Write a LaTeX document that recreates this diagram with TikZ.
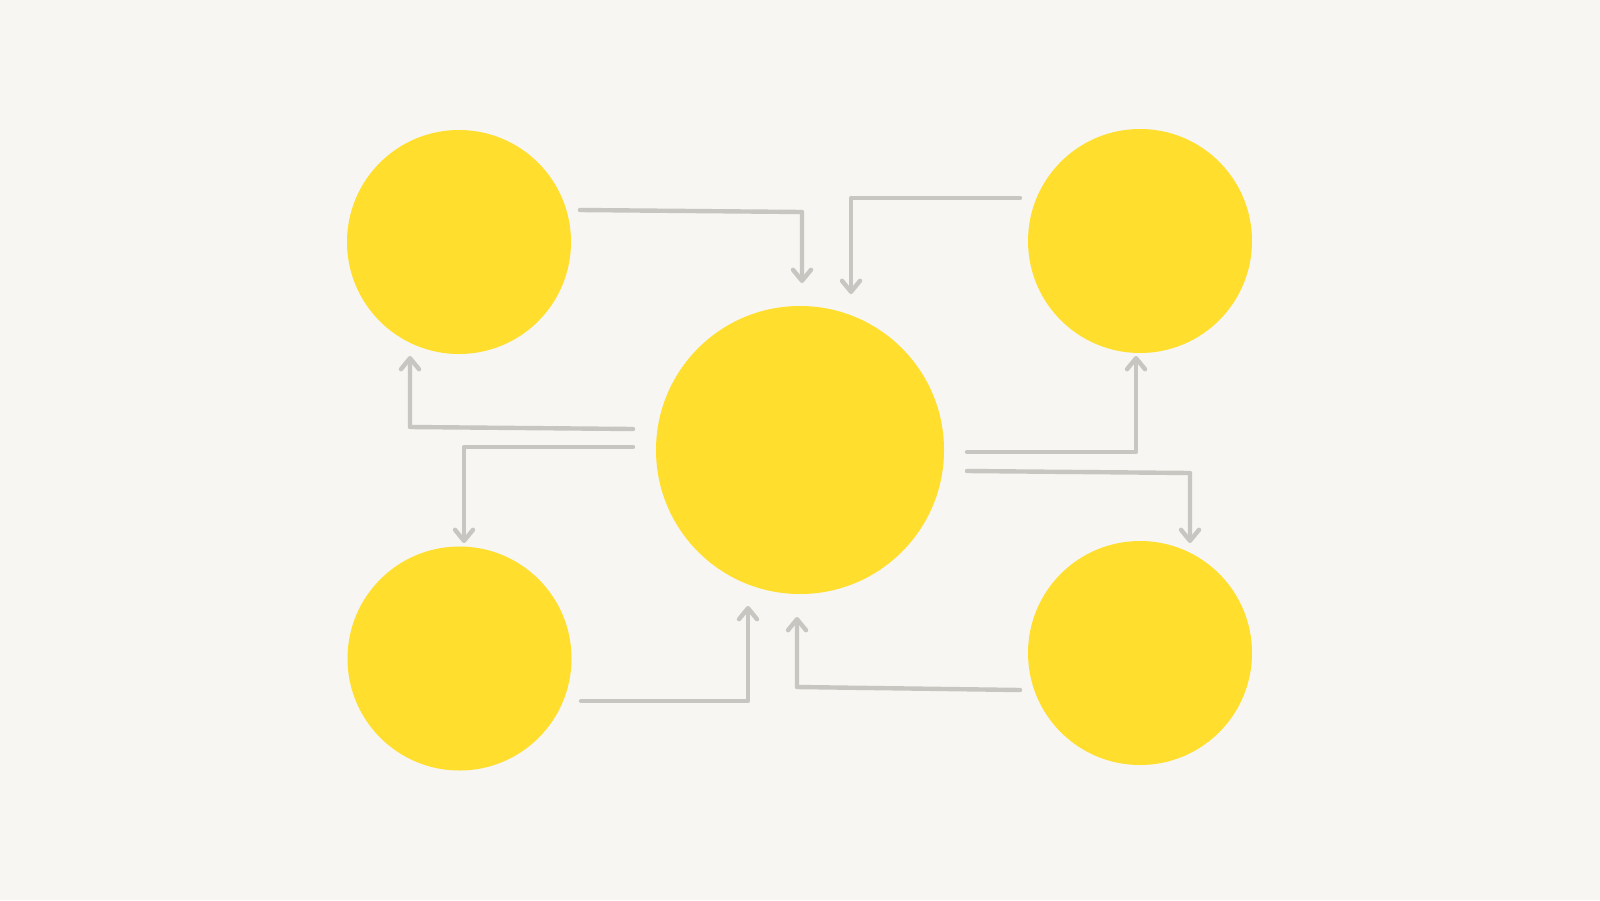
\documentclass[tikz,border=0pt]{standalone}
\usetikzlibrary{arrows.meta}
\definecolor{bg}{HTML}{F7F6F2}
\definecolor{sun}{HTML}{FFDE2E}
\definecolor{link}{HTML}{C8C6C1}
\begin{document}
\begin{tikzpicture}[x=1pt,y=-1pt,
  blob/.style={circle,fill=sun,draw=none,inner sep=0pt},
  conn/.style={draw=link,line width=4.4pt,line cap=round,line join=round,
    -{Straight Barb[length=11pt,width=18pt,round]}}]
\fill[bg] (0,0) rectangle (1600,900);
\useasboundingbox (0,0) rectangle (1600,900);
\node[blob,minimum size=288pt] (c) at (800,450) {};
\node[blob,minimum size=224pt] (tl) at (459,242) {};
\node[blob,minimum size=224pt] (tr) at (1140,241) {};
\node[blob,minimum size=224pt] (bl) at (459.5,658.5) {};
\node[blob,minimum size=224pt] (br) at (1140,653) {};
% free ends
\coordinate (s1) at (580,210);   \coordinate (e1) at (802,283);
\coordinate (s2) at (1020,198);  \coordinate (e2) at (851,294);
\coordinate (s3) at (633,429);   \coordinate (e3) at (410,356);
\coordinate (s4) at (633,447);   \coordinate (e4) at (464,543);
\coordinate (s5) at (967,452);   \coordinate (e5) at (1136,356);
\coordinate (s6) at (967,471);   \coordinate (e6) at (1190,543);
\coordinate (s7) at (581,701);   \coordinate (e7) at (748,606);
\coordinate (s8) at (1020,690);  \coordinate (e8) at (797,617);
\draw[conn] (s1) -- (802,212) -- (e1);
\draw[conn] (s2) -- (851,198) -- (e2);
\draw[conn] (s3) -- (410,427) -- (e3);
\draw[conn] (s4) -- (464,447) -- (e4);
\draw[conn] (s5) -- (1136,452) -- (e5);
\draw[conn] (s6) -- (1190,473) -- (e6);
\draw[conn] (s7) -- (748,701) -- (e7);
\draw[conn] (s8) -- (797,687) -- (e8);
\end{tikzpicture}
\end{document}
